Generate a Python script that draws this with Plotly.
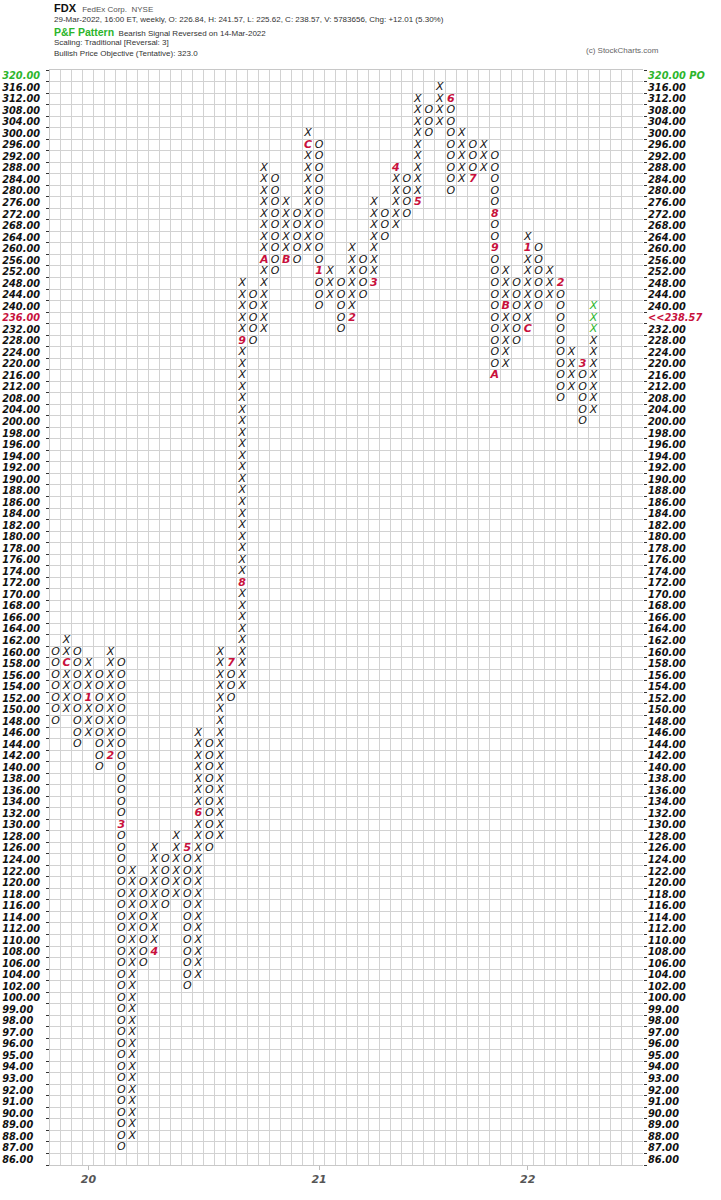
import plotly.graph_objects as go

# box scale (traditional): 1 below 100, 2 up to 200, 4 above
levels = list(range(86, 101)) + list(range(102, 201, 2)) + list(range(204, 321, 4))
cats = [f"{p:.2f}" for p in levels]

# P&F columns, oldest first
col_type = ["O", "X"] * 25
col_low = [148, 150, 144, 146, 140, 142, 87, 88, 106, 108, 116, 118, 102, 104, 126, 128, 152, 154,
           228, 232, 252, 256, 256, 260, 240, 244, 232, 236, 244, 248, 264, 268, 272, 276, 300, 304,
           280, 284, 284, 288, 216, 220, 228, 232, 240, 244, 208, 212, 200, 204]
col_high = [160, 162, 160, 158, 156, 160, 158, 122, 120, 126, 124, 128, 126, 146, 144, 160, 158, 248,
            244, 288, 284, 276, 272, 300, 296, 252, 248, 260, 256, 276, 272, 288, 284, 312, 308, 316,
            312, 300, 296, 296, 292, 252, 248, 264, 260, 252, 248, 224, 220, 240]

# month markers (1..9, A, B, C) that replace a box
month_col = [1, 3, 5, 6, 9, 12, 13, 16, 17, 17, 19, 21, 23, 24, 27, 29, 31, 33, 36, 38,
             40, 40, 40, 41, 43, 43, 46, 48]
month_price = [158, 152, 142, 130, 108, 126, 132, 158, 172, 228, 256, 256, 296, 252, 236, 248,
               288, 276, 312, 284, 272, 260, 216, 240, 260, 232, 248, 220]
month_label = ["C", "1", "2", "3", "4", "5", "6", "7", "8", "9", "A", "B", "C", "1", "2", "3",
               "4", "5", "6", "7", "8", "9", "A", "B", "1", "C", "2", "3"]

# boxes added this week (green)
last_col = 49
last_week_boxes = [232, 236, 240]

year_cols = [3, 24, 43]
year_labels = ["20", "21", "22"]

last_price = "238.57"
objective_row = 320
last_row = 236

n_cols = 54

marked = set(zip(month_col, month_price))
xx, xy, ox, oy, gx, gy = [], [], [], [], [], []
for c, (t, lo, hi) in enumerate(zip(col_type, col_low, col_high)):
    for p in levels:
        if lo <= p <= hi and (c, p) not in marked:
            if c == last_col and p in last_week_boxes:
                gx.append(c); gy.append(f"{p:.2f}")
            elif t == "X":
                xx.append(c); xy.append(f"{p:.2f}")
            else:
                ox.append(c); oy.append(f"{p:.2f}")

GREEN = "#2cb52c"
RED = "#c8103c"
box_font = dict(family="DejaVu Sans", size=11, color="#151515", style="italic")

fig = go.Figure()
fig.add_trace(go.Scatter(x=xx, y=xy, mode="text", text=["X"] * len(xx), textfont=box_font,
                         hoverinfo="skip", showlegend=False))
fig.add_trace(go.Scatter(x=ox, y=oy, mode="text", text=["O"] * len(ox), textfont=box_font,
                         hoverinfo="skip", showlegend=False))
fig.add_trace(go.Scatter(x=month_col, y=[f"{p:.2f}" for p in month_price], mode="text",
                         text=month_label,
                         textfont=dict(family="DejaVu Sans", size=11, color=RED, style="italic",
                                       weight="bold"),
                         hoverinfo="skip", showlegend=False))
fig.add_trace(go.Scatter(x=gx, y=gy, mode="text", text=["X"] * len(gx), yaxis="y2",
                         textfont=dict(family="DejaVu Sans", size=11, color=GREEN, style="italic"),
                         hoverinfo="skip", showlegend=False))

fsp = "\u2007"  # figure space, same width as a digit
left_text, right_text = [], []
for p in levels:
    s = f"{p:.2f}"
    pad = s + fsp * (6 - len(s))
    if p == objective_row:
        left_text.append(f"<span style='color:{GREEN}'>{pad}</span>")
        right_text.append(f"<span style='color:{GREEN}'>{s} PO</span>")
    elif p == last_row:
        left_text.append(f"<span style='color:{RED}'>{pad}</span>")
        right_text.append(f"<span style='color:{RED}'>&lt;&lt;{last_price}</span>")
    else:
        left_text.append(pad)
        right_text.append(s)

lab_font = dict(family="DejaVu Sans", size=9.8, color="#111", style="italic", weight="bold")
yax = dict(type="category", categoryorder="array", categoryarray=cats, range=[-0.5, len(cats) - 0.5],
           tickson="boundaries", tickmode="array", tickvals=cats, ticks="outside", ticklen=3,
           tickcolor="#333", tickfont=lab_font, zeroline=False, fixedrange=True, automargin=False)

fig.update_layout(
    width=721, height=1200,
    margin=dict(l=50, r=78, t=70, b=35, autoexpand=False),
    paper_bgcolor="white", plot_bgcolor="white",
    xaxis=dict(range=[-0.5, n_cols - 0.5], tickmode="array", tickvals=year_cols, ticktext=year_labels,
               ticks="outside", ticklen=4, tickcolor="#bbbbbb", showgrid=False, zeroline=False,
               tickfont=dict(family="DejaVu Sans", size=11, color="#555", style="italic", weight="bold"),
               minor=dict(tickvals=[i - 0.5 for i in range(n_cols + 1)], showgrid=True,
                          gridcolor="#d2d2d2", gridwidth=1, ticks=""),
               showline=True, linecolor="#c8c8c8", mirror=True, automargin=False),
    yaxis=dict(**yax, ticktext=left_text, showgrid=True, gridcolor="#d2d2d2", side="left",
               showline=True, linecolor="#c8c8c8", ticklabelstandoff=7),
    yaxis2=dict(**yax, ticktext=right_text, showgrid=False, overlaying="y", side="right",
                ticklabelstandoff=4),
)

hdr = "Liberation Sans"
def px_y(y):
    return (1165 - y) / 1095

def px_x(x):
    return (x - 50) / 593

fig.add_annotation(x=px_x(52), y=px_y(8), xref="paper", yref="paper", xanchor="left", yanchor="middle",
                   showarrow=False,
                   text="<b>FDX</b>  <span style='font-size:8px;color:#555'>FedEx Corp.  NYSE</span>",
                   font=dict(family=hdr, size=11, color="#111"))
fig.add_annotation(x=px_x(52), y=px_y(20), xref="paper", yref="paper", xanchor="left", yanchor="middle",
                   showarrow=False,
                   text="29-Mar-2022, 16:00 ET, weekly, O: 226.84, H: 241.57, L: 225.62, C: 238.57, "
                        "V: 5783656, Chg: +12.01 (5.30%)",
                   font=dict(family=hdr, size=8, color="#333"))
fig.add_annotation(x=px_x(52), y=px_y(32), xref="paper", yref="paper", xanchor="left", yanchor="middle",
                   showarrow=False,
                   text=f"<b><span style='color:{GREEN};font-size:10.5px'>P&amp;F Pattern</span></b>  "
                        "Bearish Signal Reversed on 14-Mar-2022",
                   font=dict(family=hdr, size=8, color="#333"))
fig.add_annotation(x=px_x(52), y=px_y(43), xref="paper", yref="paper", xanchor="left", yanchor="middle",
                   showarrow=False, text="Scaling: Traditional [Reversal: 3]",
                   font=dict(family=hdr, size=8, color="#333"))
fig.add_annotation(x=px_x(52), y=px_y(54), xref="paper", yref="paper", xanchor="left", yanchor="middle",
                   showarrow=False, text="Bullish Price Objective (Tentative): 323.0",
                   font=dict(family=hdr, size=8, color="#333"))
fig.add_annotation(x=px_x(622), y=px_y(50), xref="paper", yref="paper", xanchor="center", yanchor="middle",
                   showarrow=False, text="(c) StockCharts.com",
                   font=dict(family=hdr, size=8, color="#666"))

# drop the browser's default 8px body margin so the figure sits at the page corner
fig.write_html("out.html", config={"displayModeBar": False},
               post_script="document.body.style.margin = '0';")
